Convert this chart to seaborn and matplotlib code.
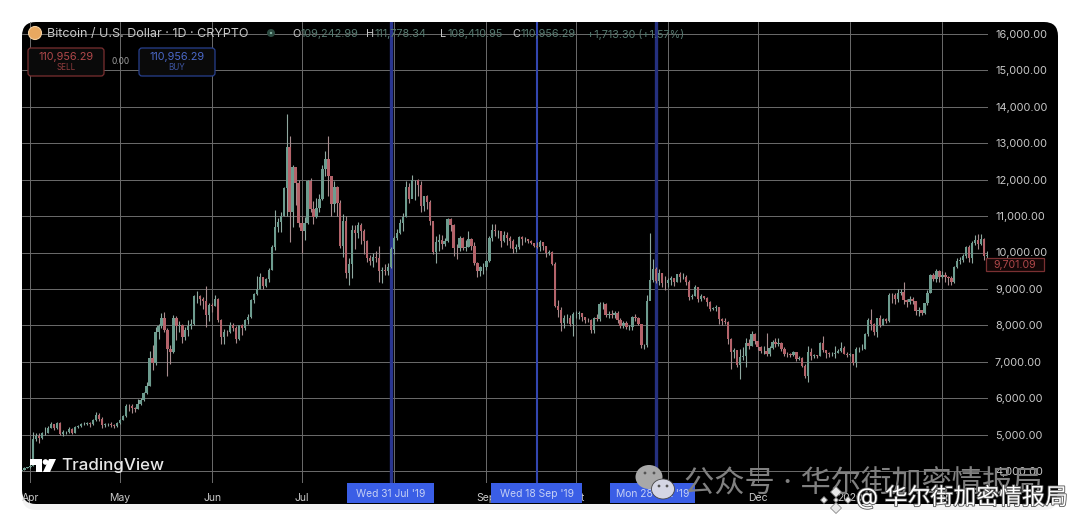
import matplotlib
matplotlib.use("Agg")
import matplotlib.pyplot as plt
import matplotlib.patheffects as pe
from matplotlib.patches import Circle, Ellipse, FancyBboxPatch, Polygon, Rectangle
from matplotlib.transforms import Affine2D
import pandas as pd
import seaborn as sns

# Daily closes, one row per month
closes = [
    4040, 4090, 4100,
    4150, 4880, 4970, 4910, 5040, 5050, 5190, 5280, 5170, 5320, 5020, 5060, 5070, 5150, 5040, 5200, 5240, 5280, 5290, 5320, 5290, 5390, 5550, 5440, 5270, 5280, 5290, 5260, 5240, 5320,
    5400, 5500, 5790, 5780, 5730, 5700, 5840, 5950, 6150, 6340, 7090, 6970, 7810, 7990, 8190, 7870, 7360, 7260, 8190, 7990, 8020, 7680, 7880, 7990, 8050, 8800, 8810, 8710, 8660, 8270, 8560,
    8540, 8730, 8160, 7680, 7820, 7810, 8000, 7940, 7630, 8010, 7930, 8150, 8230, 8690, 8860, 8990, 9320, 9080, 9270, 9530, 10150, 10700, 10850, 11000, 11780, 12900, 11100, 12350, 11900, 10800,
    10600, 10800, 11950, 11200, 10980, 11230, 11480, 12300, 12560, 12100, 11340, 11800, 11360, 10190, 10860, 9430, 9680, 10630, 10530, 10760, 10590, 10320, 9840, 9770, 9880, 9850, 9480, 9530, 9500, 9590, 10090,
    10400, 10530, 10820, 10980, 11800, 11470, 11980, 11980, 11860, 11290, 11550, 11400, 10860, 10020, 10300, 10350, 10220, 10320, 10920, 10760, 10130, 10110, 10400, 10130, 10140, 10370, 10170, 9720, 9490, 9590, 9600,
    9770, 10390, 10620, 10580, 10580, 10320, 10480, 10400, 10320, 10100, 10160, 10420, 10360, 10360, 10310, 10260, 10190, 10160, 10280, 10170, 9980, 10020, 9680, 8530, 8430, 8060, 8200, 8200, 8050, 8300,
    8300, 8340, 8230, 8160, 8150, 7860, 8210, 8180, 8590, 8590, 8270, 8300, 8280, 8350, 8160, 7990, 8070, 7950, 7950, 8220, 8210, 8030, 7470, 7470, 8660, 9240, 9550, 9220, 9430, 9170, 9150,
    9250, 9310, 9200, 9400, 9320, 9340, 9200, 8770, 8810, 9040, 8720, 8810, 8760, 8630, 8460, 8480, 8500, 8170, 8120, 8080, 7620, 7280, 7320, 6900, 7130, 7160, 7520, 7430, 7750, 7560,
    7400, 7300, 7300, 7200, 7390, 7540, 7500, 7520, 7340, 7220, 7200, 7190, 7260, 7070, 7110, 6880, 6620, 7280, 7150, 7190, 7150, 7510, 7320, 7250, 7200, 7200, 7250, 7300, 7390, 7220, 7190,
    7200, 6960, 7340, 7350, 7360, 7760, 8160, 8050, 7820, 8190, 8020, 8180, 8110, 8830, 8820, 8720, 8900, 8910, 8700, 8630, 8730, 8660, 8390, 8430, 8340, 8600, 8900, 9390, 9280, 9500, 9340,
    9380, 9330, 9290, 9180, 9610, 9760, 9800, 9900, 10160, 9860, 10270, 10350, 10240, 10370, 9900, 9930, 9700,
]
highs = [
    4060, 4110, 4120,
    4180, 5080, 5050, 5030, 5070, 5220, 5240, 5340, 5300, 5350, 5340, 5120, 5110, 5200, 5180, 5230, 5270, 5320, 5340, 5350, 5340, 5420, 5630, 5600, 5480, 5320, 5330, 5340, 5280, 5350,
    5430, 5530, 5830, 5840, 5840, 5770, 5980, 6010, 6170, 6430, 7300, 7450, 7950, 8050, 8330, 8370, 7930, 7460, 8270, 8260, 8110, 8030, 7950, 8140, 8170, 8830, 8930, 8820, 8780, 9080, 8600,
    8620, 8820, 8750, 8180, 7900, 7880, 8100, 8060, 7990, 8020, 8030, 8170, 8310, 8720, 8900, 9350, 9440, 9330, 9300, 9580, 10200, 11160, 10950, 11100, 11800, 13800, 13200, 12400, 12250, 12000,
    10990, 10970, 12000, 12040, 11420, 11500, 11620, 12400, 12800, 13200, 12100, 11950, 11830, 11450, 11050, 11000, 9850, 10750, 10750, 10850, 10800, 10650, 10350, 9920, 10000, 10050, 10170, 9600, 9690, 9720, 10140,
    10460, 10640, 10920, 11080, 11950, 11900, 12130, 12000, 12030, 11950, 11560, 11580, 11440, 10800, 10440, 10500, 10480, 10400, 10950, 10950, 10780, 10240, 10450, 10420, 10330, 10600, 10400, 10300, 9750, 9640, 9700,
    9800, 10450, 10780, 10780, 10620, 10600, 10580, 10550, 10440, 10380, 10240, 10450, 10440, 10420, 10380, 10350, 10270, 10280, 10350, 10300, 10190, 10080, 10050, 9750, 8700, 8500, 8280, 8300, 8270, 8370,
    8390, 8400, 8350, 8240, 8200, 8170, 8240, 8300, 8650, 8640, 8620, 8400, 8420, 8390, 8400, 8200, 8130, 8120, 8010, 8260, 8320, 8240, 8050, 7480, 8830, 10540, 9830, 9600, 9560, 9440, 9350,
    9290, 9360, 9310, 9420, 9470, 9450, 9370, 9240, 8860, 9110, 9050, 8860, 8810, 8780, 8660, 8510, 8560, 8510, 8200, 8210, 8120, 7650, 7390, 7330, 7350, 7400, 7660, 7620, 7850, 7800,
    7580, 7420, 7420, 7780, 7430, 7600, 7640, 7640, 7550, 7400, 7280, 7240, 7300, 7280, 7150, 7130, 6950, 7440, 7370, 7220, 7190, 7530, 7700, 7330, 7280, 7280, 7440, 7340, 7530, 7420, 7260,
    7250, 7220, 7410, 7400, 7500, 7800, 8210, 8460, 8060, 8200, 8290, 8190, 8190, 8880, 8900, 8890, 8990, 8990, 9190, 8730, 8800, 8790, 8680, 8500, 8430, 8610, 8970, 9400, 9450, 9550, 9530,
    9480, 9460, 9350, 9360, 9630, 9860, 9870, 9950, 10180, 10200, 10310, 10480, 10520, 10500, 10390, 10050, 9970,
]
lows = [
    4000, 4030, 4070,
    4090, 4150, 4820, 4780, 4890, 5000, 5040, 5170, 5130, 5150, 4990, 4950, 5020, 5040, 5010, 5030, 5170, 5220, 5250, 5270, 5220, 5270, 5380, 5360, 5190, 5220, 5240, 5200, 5190, 5220,
    5300, 5390, 5490, 5640, 5600, 5610, 5690, 5810, 5930, 6120, 6330, 6780, 6900, 7620, 7930, 7810, 6600, 6950, 7250, 7600, 7820, 7520, 7600, 7700, 7900, 8020, 8620, 8570, 8450, 7950, 8120,
    8360, 8540, 8100, 7500, 7480, 7700, 7800, 7850, 7520, 7610, 7730, 7880, 8040, 8200, 8620, 8820, 9000, 9000, 9050, 9200, 9530, 10080, 10550, 10570, 10990, 11000, 10300, 10700, 11300, 10700,
    10000, 10330, 10790, 11100, 10780, 10950, 11100, 11450, 12100, 11550, 11000, 11100, 11000, 10130, 9880, 9300, 9100, 9300, 10100, 10400, 10240, 9950, 9750, 9650, 9600, 9730, 9200, 9170, 9370, 9370, 9570,
    9950, 10330, 10500, 10600, 10980, 11350, 11500, 11450, 11560, 11120, 11150, 11200, 10760, 9950, 9720, 10050, 10100, 10180, 10300, 10600, 9900, 9830, 10050, 10060, 10050, 10150, 10080, 9650, 9330, 9350, 9420,
    9520, 9740, 10320, 10440, 10400, 10160, 10300, 10210, 10120, 10000, 10020, 10100, 10200, 10280, 10260, 10220, 10150, 10120, 10050, 10060, 9890, 9930, 9650, 8500, 8240, 7850, 7930, 8070, 7980, 7710,
    8200, 8170, 8120, 8060, 8080, 7800, 7800, 8120, 8120, 8450, 8240, 8200, 8200, 8200, 8070, 7920, 7930, 7900, 7870, 7880, 8130, 8000, 7390, 7350, 7410, 8970, 9200, 9160, 9120, 9050, 8980,
    9050, 9120, 9070, 9180, 9180, 9260, 9120, 8700, 8710, 8800, 8630, 8680, 8720, 8530, 8380, 8420, 8390, 8050, 8000, 8050, 7500, 6800, 7100, 6850, 6530, 7040, 6850, 7360, 7420, 7490,
    7330, 7240, 7220, 7160, 7150, 7340, 7410, 7420, 7300, 7160, 7130, 7120, 7150, 7030, 7040, 6860, 6560, 6430, 7050, 7090, 7110, 7150, 7270, 7100, 7120, 7150, 7110, 7230, 7270, 7200, 7130,
    7150, 6900, 6860, 7260, 7310, 7340, 7720, 7870, 7730, 7670, 7960, 8000, 8060, 8100, 8610, 8580, 8640, 8820, 8580, 8490, 8590, 8580, 8280, 8250, 8280, 8300, 8570, 8880, 9230, 9180, 9200,
    9290, 9200, 9100, 9120, 9160, 9570, 9680, 9740, 9860, 9730, 9700, 10200, 10100, 10200, 9800, 9600, 9620,
]
first_open = 4000

price_ticks = [4000, 5000, 6000, 7000, 8000, 9000, 10000, 11000, 12000, 13000, 14000, 15000, 16000]
month_days = [0, 30, 61, 91, 122, 153, 183, 214, 244, 275, 306]
month_labels = ["Apr", "May", "Jun", "Jul", "Aug", "Sep", "Oct", "Nov", "Dec", "2020", "Feb"]
marked_days = [121, 170, 210]
marked_labels = ["Wed 31 Jul '19", "Wed 18 Sep '19", "Mon 28 Oct '19"]
last_price = "9,701.09"
quote = "110,956.29"

UP = "#6d9c8f"
DOWN = "#b4636a"
GRID = "#6c6c6c"
LABEL = "#c9c9c9"
BLUE = "#3a5ee6"

sns.set_theme(style="dark", rc={"axes.facecolor": "none", "figure.facecolor": "white"})
plt.rcParams["font.family"] = ["Inter", "Noto Sans CJK SC", "DejaVu Sans"]

df = pd.DataFrame({"close": closes, "high": highs, "low": lows})
df["open"] = df["close"].shift(1).fillna(first_open)
df["day"] = range(-3, len(df) - 3)
df["bottom"] = df[["open", "close"]].min(axis=1)
df["body"] = (df["close"] - df["open"]).abs()
up = df[df["close"] >= df["open"]]
down = df[df["close"] < df["open"]]

fig = plt.figure(figsize=(10.8, 5.26), dpi=100)
# overlays are placed in reference pixels, origin top left
px = Affine2D().scale(1 / 1080, -1 / 526).translate(0, 1) + fig.transFigure

for off, col in [(6, "#f3f3f3"), (0, "#000000")]:
    fig.add_artist(FancyBboxPatch((34, 34 + off), 1012, 458, boxstyle="round,pad=12,rounding_size=14",
                                  transform=px, fc=col, ec="none", zorder=-2))

ax = fig.add_axes([22 / 1080, 1 - 483 / 526, 966 / 1080, 461 / 526])

# candles
ax.vlines(up["day"], up["low"], up["high"], color="#8fa8a0", lw=0.8, zorder=3)
ax.vlines(down["day"], down["low"], down["high"], color="#a88c8e", lw=0.8, zorder=3)
for part, col in [(up, UP), (down, DOWN)]:
    sns.barplot(data=part, x="day", y="body", bottom=part["bottom"], native_scale=True, width=0.78,
                color=col, saturation=1, errorbar=None, linewidth=0, ax=ax, zorder=4)

for d, col, lw in zip(marked_days, ["#2a3690", "#3346b0", "#25307f"], [2.4, 1.5, 2.4]):
    ax.axvline(d, color=col, lw=lw, zorder=2)

ax.set_xlim(-2.8, 321.3)
ax.set_ylim(3670, 16330)
ax.set_xlabel("")
ax.set_ylabel("")
ax.set_xticks(month_days, month_labels)
ax.set_yticks(price_ticks, [f"{p:,.2f}" for p in price_ticks])
ax.yaxis.tick_right()
ax.grid(True, color=GRID, lw=0.7, zorder=1)
ax.set_axisbelow(True)
ax.tick_params(axis="x", length=0, pad=7, labelsize=7.5, colors=LABEL)
ax.tick_params(axis="y", length=0, pad=5, labelsize=7.9, colors=LABEL)
sns.despine(ax=ax, left=True, bottom=True, top=True, right=True)

# date tags on the time axis
for x0, x1, txt in [(347, 434, marked_labels[0]), (491, 582, marked_labels[1]), (610, 695, marked_labels[2])]:
    fig.add_artist(Rectangle((x0, 483), x1 - x0, 20, transform=px, fc=BLUE, ec="none", zorder=5))
    fig.text((x0 + x1) / 2, 494, txt, transform=px, color="#c5d0f5", fontsize=7.4, ha="center", va="center", zorder=6)

# header line
fig.add_artist(Circle((35, 33), 6.5, transform=px, fc="#e8a860", ec="#f4d0a0", lw=0.8, zorder=5))
fig.text(47, 34, "Bitcoin / U.S. Dollar · 1D · CRYPTO", transform=px, color=LABEL, fontsize=9, va="center", zorder=6)
fig.add_artist(Circle((271, 33), 2.6, transform=px, fc="#7fb0a0", ec="#2b4a40", lw=2, zorder=5))
for x, txt, col in [(292, "O", LABEL), (300, "109,242.99", "#577a70"), (366, "H", LABEL), (374, "111,778.34", "#577a70"),
                    (440, "L", LABEL), (447, "108,410.95", "#577a70"), (512, "C", LABEL), (520, "110,956.29", "#577a70"),
                    (587, "+1,713.30 (+1.57%)", "#577a70")]:
    fig.text(x, 34, txt, transform=px, color=col, fontsize=7.8, va="center", zorder=6)

# sell and buy buttons
for x0, ec, tc, side in [(28, "#7a2f30", "#b0484a", "SELL"), (139, "#27408f", "#4a68c8", "BUY")]:
    fig.add_artist(FancyBboxPatch((x0 + 3, 51), 70, 22, boxstyle="round,pad=3,rounding_size=3", transform=px,
                                  fc="#0a0a0a", ec=ec, lw=0.9, zorder=5))
    fig.text(x0 + 38, 57, quote, transform=px, color=tc, fontsize=7.8, ha="center", va="center", zorder=6)
    fig.text(x0 + 38, 68, side, transform=px, color=tc, fontsize=5.8, ha="center", va="center", alpha=0.8, zorder=6)
fig.text(121, 62, "0.00", transform=px, color="#a0a0a0", fontsize=6, ha="center", va="center", zorder=6)

# last price tag
fig.add_artist(Rectangle((986, 258), 58, 13, transform=px, fc="#120606", ec="#7a3032", lw=0.9, zorder=5))
fig.text(1015, 265, last_price, transform=px, color="#b0484a", fontsize=7.6, ha="center", va="center", zorder=6)

# TradingView logo
fig.add_artist(Polygon([(30, 459), (42, 459), (42, 472), (36, 472), (36, 465), (30, 465)], transform=px, fc="white", ec="none", zorder=6))
fig.add_artist(Circle((45.5, 462), 2.8, transform=px, fc="white", ec="none", zorder=6))
fig.add_artist(Polygon([(49, 459), (56, 459), (50, 472), (43, 472)], transform=px, fc="white", ec="none", zorder=6))
fig.text(61, 465.5, "TradingView", transform=px, color="#e8e8e8", fontsize=12.2, fontweight="medium", va="center", zorder=6)

# watermarks
fig.add_artist(Ellipse((649, 477), 27, 24, transform=px, fc="#a8a8a8", ec="none", zorder=7))
fig.add_artist(Ellipse((663, 489), 23, 20, transform=px, fc="#d4d6e4", ec="#444444", lw=0.6, zorder=7))
for cx, cy in [(645, 473), (654, 473), (659, 486), (667, 486)]:
    fig.add_artist(Circle((cx, cy), 1.4, transform=px, fc="#555555", ec="none", zorder=7))
fig.text(684, 484, "公众号 · 华尔街加密情报局", transform=px, color="#808080", fontsize=21.8, va="center", zorder=7)
for cx, cy, r in [(836, 492, 5.5), (824, 500, 3.5), (848, 500, 3.5), (836, 508, 5.5), (836, 500, 2.5)]:
    fig.add_artist(Polygon([(cx, cy - r), (cx + r, cy), (cx, cy + r), (cx - r, cy)], transform=px,
                           fc="#e8e8e8", ec="#777777", lw=0.5, zorder=8))
fig.text(856, 497, "@ 华尔街加密情报局", transform=px, color="white", fontsize=16.5, va="center", zorder=8,
         path_effects=[pe.withStroke(linewidth=1.2, foreground="#555555")])

fig.savefig("out.png", dpi=100)
